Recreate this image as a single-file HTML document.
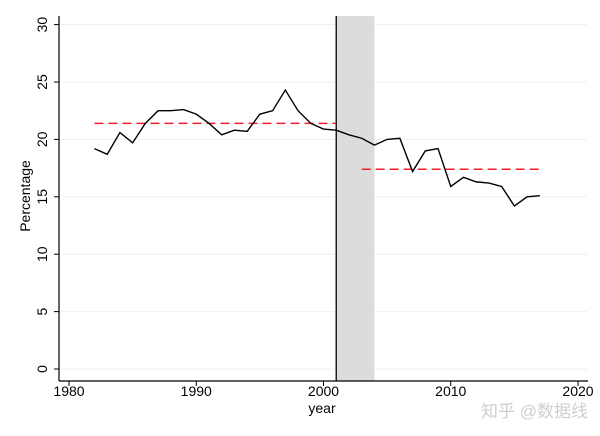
<!DOCTYPE html>
<html><head><meta charset="utf-8"><style>
body{margin:0;background:#fff;}
svg{display:block;font-family:"Liberation Sans",Arial,sans-serif;}
</style></head><body>
<svg id="chart" width="600" height="436">
<rect x="0" y="0" width="600" height="436" fill="#fff"/>
<g id="grid"></g><g id="band"></g><g id="lines"></g><g id="axes"></g>
<text x="322" y="413" font-size="14" text-anchor="middle">year</text>
<text transform="translate(30,196) rotate(-90)" font-size="14" text-anchor="middle">Percentage</text>
<text x="588" y="417" font-size="17" text-anchor="end" fill="#cfcfcf" font-family="'Liberation Sans','Noto Sans CJK SC',sans-serif">知乎 @数据线</text>
</svg>
<script>
const years=[1982,1983,1984,1985,1986,1987,1988,1989,1990,1991,1992,1993,1994,1995,1996,1997,1998,1999,2000,2001,2002,2003,2004,2005,2006,2007,2008,2009,2010,2011,2012,2013,2014,2015,2016,2017];
const values=[19.2,18.7,20.6,19.7,21.4,22.5,22.5,22.6,22.2,21.4,20.4,20.8,20.7,22.2,22.5,24.3,22.5,21.4,20.9,20.8,20.4,20.1,19.5,20.0,20.1,17.2,19.0,19.2,15.9,16.7,16.3,16.2,15.9,14.2,15.0,15.1];
const meanPre=[1982,2001,21.4];
const meanPost=[2003,2017,17.4];
const eventYear=[2001];
const band=[2001,2004];
const xTicks=[1980,1990,2000,2010,2020];
const yTicks=[0,5,10,15,20,25,30];
const NS="http://www.w3.org/2000/svg";
const x=v=>69+(v-1980)*(509/40);
const y=v=>369-v*(344.4/30);
function mk(par,tag,attrs,name){const e=document.createElementNS(NS,tag);for(const k in attrs)e.setAttribute(k,attrs[k]);


document.getElementById(par).appendChild(e);return e;}
yTicks.forEach(t=>{mk('grid','line',{x1:59,x2:587,y1:y(t),y2:y(t),stroke:'#efefef','stroke-width':1},'gridline');
mk('axes','line',{x1:54,x2:59,y1:y(t),y2:y(t),stroke:'#000'},'y-tick');
const tx=mk('axes','text',{transform:`translate(${47},${y(t)}) rotate(-90)`,'font-size':14,'text-anchor':'middle'},'y-tick-label');tx.textContent=t;});
mk('band','rect',{x:x(band[0]),y:16,width:x(band[1])-x(band[0]),height:381-16,fill:'#dcdcdc'},'shaded-period');
mk('lines','line',{x1:x(eventYear[0]),x2:x(eventYear[0]),y1:16,y2:381,stroke:'#000','stroke-width':1.3},'event-line');
mk('lines','line',{x1:x(meanPre[0]),x2:x(meanPre[1]),y1:y(meanPre[2]),y2:y(meanPre[2]),stroke:'#f0202c','stroke-width':1.5,'stroke-dasharray':'9 5'},'pre-mean-line');
mk('lines','line',{x1:x(meanPost[0]),x2:x(meanPost[1]),y1:y(meanPost[2]),y2:y(meanPost[2]),stroke:'#f0202c','stroke-width':1.5,'stroke-dasharray':'9 5'},'post-mean-line');
mk('lines','polyline',{points:years.map((yr,i)=>x(yr)+','+y(values[i])).join(' '),fill:'none',stroke:'#000','stroke-width':1.4},'percentage-line');
mk('axes','line',{x1:59,x2:59,y1:16,y2:381,stroke:'#000','stroke-width':1.2},'y-axis');
mk('axes','line',{x1:59,x2:588,y1:381,y2:381,stroke:'#000','stroke-width':1.2},'x-axis');
xTicks.forEach(t=>{mk('axes','line',{x1:x(t),x2:x(t),y1:381,y2:386,stroke:'#000'},'x-tick');
const tx=mk('axes','text',{x:x(t),y:396,'font-size':14,'text-anchor':'middle'},'x-tick-label');tx.textContent=t;});
</script>
</body></html>
